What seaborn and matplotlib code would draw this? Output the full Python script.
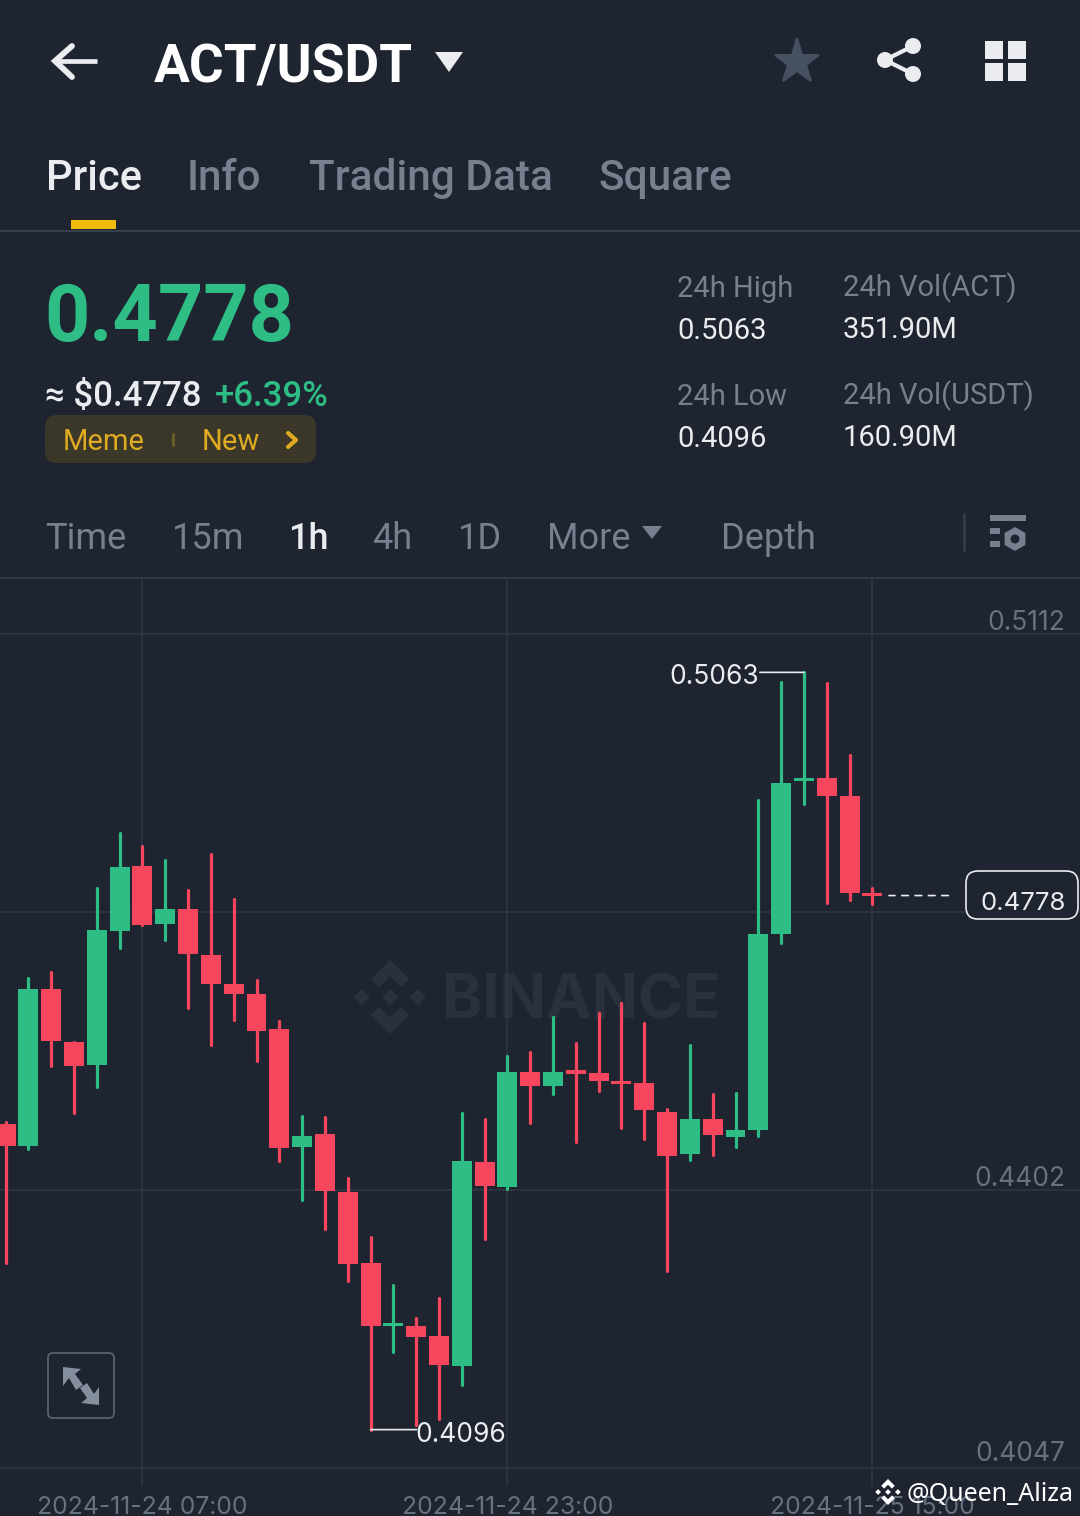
"""
ACT/USDT 1h candlestick screen, redrawn with seaborn.
Bodies are seaborn bars, wicks a seaborn line per candle, the app chrome sits on
pixel-scaled overlay axes.
"""
import matplotlib
matplotlib.use("Agg")
import matplotlib.pyplot as plt
import numpy as np
import pandas as pd
import seaborn as sns
from matplotlib.patches import Circle, FancyBboxPatch, Polygon, Rectangle

W, H = 1080, 1516
BG     = "#1e2430"
GRID   = "#323843"
UP     = "#2ebd85"
DOWN   = "#f6465d"
WHITE  = "#eaecef"
GREY   = "#76808f"
AXIS   = "#687180"
GOLD   = "#e0ab22"
MARK   = "#2a303c"
FONT   = "Roboto"
CHART  = "Inter"

# ── data ──────────────────────────────────────────────────────────────────────
opens = [
    0.4486, 0.4458, 0.4659, 0.4591, 0.4562, 0.4733, 0.4816, 0.4742, 0.4761, 0.4702,
    0.4665, 0.4652, 0.4608, 0.4457, 0.4474, 0.4399, 0.4309, 0.4228, 0.4228, 0.4216,
    0.4177, 0.4438, 0.4406, 0.4553, 0.4535, 0.4555, 0.4551, 0.4541, 0.4539, 0.4502,
    0.4448, 0.4493, 0.4470, 0.4479, 0.4729, 0.4924, 0.4928, 0.4905, 0.4781,
]
closes = [
    0.4458, 0.4659, 0.4592, 0.4560, 0.4734, 0.4814, 0.4740, 0.4761, 0.4703, 0.4665,
    0.4652, 0.4605, 0.4456, 0.4471, 0.4401, 0.4308, 0.4228, 0.4232, 0.4214, 0.4179,
    0.4439, 0.4407, 0.4553, 0.4535, 0.4553, 0.4550, 0.4541, 0.4537, 0.4504, 0.4445,
    0.4493, 0.4472, 0.4479, 0.4729, 0.4922, 0.4928, 0.4905, 0.4781, 0.4778,
]
highs = [
    0.4489, 0.4673, 0.4680, 0.4591, 0.4788, 0.4858, 0.4841, 0.4823, 0.4785, 0.4831,
    0.4774, 0.4670, 0.4618, 0.4497, 0.4495, 0.4417, 0.4342, 0.4281, 0.4239, 0.4264,
    0.4500, 0.4493, 0.4573, 0.4578, 0.4623, 0.4590, 0.4628, 0.4641, 0.4615, 0.4505,
    0.4587, 0.4525, 0.4526, 0.4900, 0.5051, 0.5063, 0.5049, 0.4958, 0.4788,
]
lows = [
    0.4309, 0.4454, 0.4560, 0.4500, 0.4533, 0.4711, 0.4740, 0.4721, 0.4634, 0.4587,
    0.4619, 0.4567, 0.4439, 0.4389, 0.4352, 0.4286, 0.4096, 0.4195, 0.4102, 0.4110,
    0.4153, 0.4339, 0.4403, 0.4488, 0.4525, 0.4463, 0.4528, 0.4481, 0.4467, 0.4299,
    0.4440, 0.4447, 0.4457, 0.4471, 0.4717, 0.4895, 0.4769, 0.4772, 0.4767,
]
price_ticks  = [0.5112, 0.4757, 0.4402, 0.4047]
price_labels = ["0.5112", "", "0.4402", "0.4047"]
time_ticks   = [6, 22, 38]
time_labels  = ["2024-11-24 07:00", "2024-11-24 23:00", "2024-11-25 15:00"]
HIGH_IDX, HIGH_PRICE = 35, 0.5063
LOW_IDX, LOW_PRICE   = 16, 0.4096
LAST_IDX, LAST_PRICE = 38, 0.4778

candles = pd.DataFrame({"open": opens, "close": closes, "high": highs, "low": lows})
candles["hour"]   = np.arange(len(candles))
candles["rising"] = candles["close"] > candles["open"]
candles["bottom"] = candles[["open", "close"]].min(axis=1)
candles["body"]   = (candles["close"] - candles["open"]).abs()
wicks = candles.melt(id_vars=["hour", "rising"], value_vars=["low", "high"], value_name="price")

# ── figure ────────────────────────────────────────────────────────────────────
sns.set_theme(style="darkgrid", rc={
    "figure.facecolor": BG, "axes.facecolor": "none", "grid.color": GRID, "grid.linewidth": 1.1,
})
plt.rcParams["font.family"] = [FONT, "DejaVu Sans"]

fig = plt.figure(figsize=(W / 100, H / 100), dpi=100)
back = fig.add_axes([0, 0, 1, 1], zorder=0)
ax   = fig.add_axes([0, (H - 1486) / H, 1, (1486 - 578) / H], zorder=1)
top  = fig.add_axes([0, 0, 1, 1], zorder=2, facecolor="none")
for layer in (back, top):
    layer.set_xlim(0, W)
    layer.set_ylim(H, 0)
    layer.axis("off")

# ── candles ───────────────────────────────────────────────────────────────────
sns.lineplot(data=wicks, x="hour", y="price", units="hour", estimator=None, hue="rising",
             palette={True: UP, False: DOWN}, linewidth=2.3, legend=False, ax=ax, zorder=2)
for rising, colour in ((True, UP), (False, DOWN)):
    part = candles[candles["rising"] == rising].sort_values("hour")
    sns.barplot(data=part, x="hour", y="body", bottom=part["bottom"].to_numpy(), native_scale=True,
                color=colour, saturation=1, width=0.875, linewidth=0, errorbar=None, ax=ax, zorder=3)

ax.set_xlim(-5.6 / 22.81, (W - 5.6) / 22.81)
ax.set_ylim(0.4024, 0.51835)
ax.set_xlabel("")
ax.set_ylabel("")
ax.set_yticks(price_ticks, [""] * len(price_ticks))
ax.set_xticks(time_ticks, time_labels, color=AXIS, fontsize=17.8, family=CHART)
ax.tick_params(length=0, pad=7)
ax.set_axisbelow(True)
sns.despine(ax=ax, left=True, bottom=True)

for price, tick_text in zip(price_ticks, price_labels):
    ax.annotate(tick_text, xy=(1, price), xycoords=("axes fraction", "data"), xytext=(-15, 11 if price > 0.41 else 14),
                textcoords="offset pixels", ha="right", va="center", color=AXIS, fontsize=19, family=CHART)


def extreme_label(idx, price, line_px, text_px, text_dy, ha, text):
    ax.annotate("", xy=(idx, price), xytext=(line_px, 0), textcoords="offset pixels",
                arrowprops=dict(arrowstyle="-", color=WHITE, lw=1.2, shrinkA=0, shrinkB=0), zorder=5)
    ax.annotate(text, xy=(idx, price), xytext=(text_px, text_dy), textcoords="offset pixels",
                ha=ha, va="center", color=WHITE, fontsize=19, family=CHART, zorder=5)


extreme_label(HIGH_IDX, HIGH_PRICE, -44, -45, -5, "right", "0.5063")
extreme_label(LOW_IDX, LOW_PRICE, 46, 45, -5, "left", "0.4096")
ax.annotate("", xy=(LAST_IDX, LAST_PRICE), xytext=(76, 0), textcoords="offset pixels",
            arrowprops=dict(arrowstyle="-", color=WHITE, lw=1.2, ls=(0, (4, 4)), shrinkA=0, shrinkB=12), zorder=5)


# ── chrome helpers ────────────────────────────────────────────────────────────
def label(target, x, y, text, size, colour=WHITE, weight="normal", ha="left", family=FONT):
    # va="center" sits high for caps, push down in proportion to the font size
    target.text(x, y + 0.12 * size, text, fontsize=size, color=colour, fontweight=weight,
                ha=ha, va="center", family=family)


def binance_logo(target, cx, cy, r, colour):
    chevron = [(0, -1), (0.52, -0.48), (0.3, -0.26), (0, -0.56), (-0.3, -0.26), (-0.52, -0.48)]
    for sign in (1, -1):
        pts = [(cx + r * px, cy + sign * r * py) for px, py in chevron]
        target.add_patch(Polygon(pts, fc=colour, ec="none"))
    for dx, half in ((-0.76, 0.22), (0, 0.22), (0.76, 0.22)):
        mx = cx + dx * r
        pts = [(mx - half * r, cy), (mx, cy - half * r), (mx + half * r, cy), (mx, cy + half * r)]
        target.add_patch(Polygon(pts, fc=colour, ec="none"))


# ── header ────────────────────────────────────────────────────────────────────
back.add_patch(Rectangle((0, 0), W, H, fc=BG, ec="none", zorder=-1))
back.plot([56, 97], [61, 61], color=WHITE, lw=3.4, solid_capstyle="butt")
back.plot([72, 55, 72], [46, 61, 77], color=WHITE, lw=4.2, solid_joinstyle="miter")
label(back, 154, 63, "ACT/USDT", 38.3, "white", "bold")
back.add_patch(Polygon([(435, 52), (463, 52), (449, 72)], fc=WHITE, ec="none"))
back.plot([797], [62], marker="*", ms=34, color="#465060", mec="#465060", mew=1.5, mfc="#465060")
back.plot([913, 885, 913], [46, 60, 74], color=WHITE, lw=3)
for cx, cy, r in ((885, 60, 8), (913, 46, 8), (913, 74, 8)):
    back.add_patch(Circle((cx, cy), r, fc=WHITE, ec="none"))
for gx in (985, 1008):
    for gy in (41, 63):
        back.add_patch(Rectangle((gx, gy), 17.5, 18, fc=WHITE, ec="none"))

label(back, 46, 175, "Price", 30, WHITE, "medium")
label(back, 187, 175, "Info", 30.5, GREY, "medium")
label(back, 309, 175, "Trading Data", 30.5, GREY, "medium")
label(back, 598, 175, "Square", 30.5, GREY, "medium")
back.add_patch(Rectangle((71, 220), 45, 9, fc="#f0b90b", ec="none"))
back.plot([0, W], [230.5, 230.5], color="#3a404b", lw=1.4)

label(back, 44, 313, "0.4778", 57, UP, "bold")
label(back, 45, 393, "≈ $0.4778", 25, WHITE, "medium")
label(back, 215, 393, "+6.39%", 25, UP, "medium")
back.add_patch(FancyBboxPatch((45, 415), 271, 48, boxstyle="round,pad=0,rounding_size=12",
                              fc="#3b3729", ec="none"))
label(back, 63, 439, "Meme", 21, GOLD)
back.plot([173, 173], [434, 445], color="#6a5c2c", lw=2.2)
label(back, 202, 439, "New", 21, GOLD)
back.plot([288, 296, 288], [433, 440, 447], color=GOLD, lw=3)

for x, y, text, colour in (
    (677, 286, "24h High", GREY), (677, 328, "0.5063", WHITE),
    (677, 394, "24h Low", GREY), (677, 436, "0.4096", WHITE),
    (843, 285, "24h Vol(ACT)", GREY), (843, 327, "351.90M", WHITE),
    (843, 393, "24h Vol(USDT)", GREY), (843, 435, "160.90M", WHITE),
):
    label(back, x, y, text, 21, colour)

for x, text, colour, weight in (
    (45, "Time", GREY, "normal"), (172, "15m", GREY, "normal"), (288, "1h", WHITE, "medium"),
    (372, "4h", GREY, "normal"), (458, "1D", GREY, "normal"), (547, "More", GREY, "normal"),
    (721, "Depth", GREY, "normal"),
):
    label(back, x, 536, text, 26, colour, weight)
back.add_patch(Polygon([(642, 526), (662, 526), (652, 539)], fc=GREY, ec="none"))
back.plot([964, 964], [514, 550], color="#363c47", lw=2)
back.add_patch(Rectangle((990, 515), 36, 6, fc=GREY, ec="none"))
back.add_patch(Rectangle((990, 528), 10, 6, fc=GREY, ec="none"))
back.add_patch(Rectangle((990, 541), 10, 6, fc=GREY, ec="none"))
hex_angles = np.deg2rad(np.arange(30, 390, 60))
back.add_patch(Polygon(np.c_[1015 + 12 * np.cos(hex_angles), 539 + 12 * np.sin(hex_angles)], fc=GREY, ec="none"))
back.add_patch(Circle((1015, 539), 4.5, fc=BG, ec="none"))
back.plot([0, W], [578, 578], color="#343a45", lw=1.4)

# ── watermark, expand button ──────────────────────────────────────────────────
binance_logo(back, 390, 997, 37, MARK)
label(back, 442, 997, "BINANCE", 44, MARK, "bold", family=CHART)
top.add_patch(FancyBboxPatch((52, 1357), 58, 57, boxstyle="round,pad=4,rounding_size=5",
                             fc=BG, ec="#596170", lw=1.3))
top.add_patch(Polygon([(63, 1367), (81, 1369), (75, 1374), (83, 1385), (76, 1390), (69, 1378), (63, 1386)],
                      fc="#848e9c", ec="none"))
top.add_patch(Polygon([(99, 1405), (81, 1403), (87, 1398), (80, 1388), (87, 1383), (94, 1394), (99, 1387)],
                      fc="#848e9c", ec="none"))

# ── last price pill, stamp ────────────────────────────────────────────────────
top.add_patch(FancyBboxPatch((976, 881), 92, 28, boxstyle="round,pad=10,rounding_size=12",
                             fc=BG, ec=WHITE, lw=1.2))
top.text(1023, 903, "0.4778", fontsize=18.6, color=WHITE, ha="center", va="center", family=CHART)
binance_logo(top, 888, 1492, 13, "white")
label(top, 906, 1492, "@Queen_Aliza", 18, "white", family="Noto Sans")

fig.savefig("out.png", dpi=100, facecolor=BG)
